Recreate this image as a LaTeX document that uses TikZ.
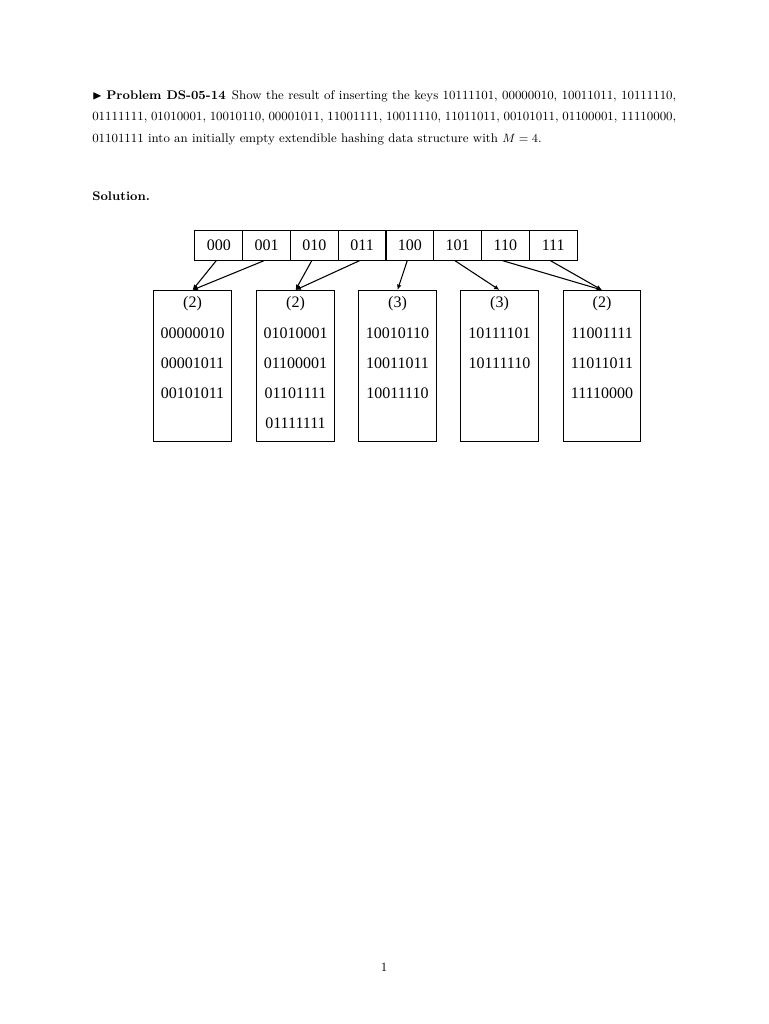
\documentclass[tikz,border=0pt]{standalone}
\usepackage{amssymb}
\usepackage{fontspec}
\newfontfamily\tms{Liberation Serif}
\usetikzlibrary{arrows.meta}
\begin{document}
\begin{tikzpicture}[x=0.75pt,y=-0.75pt,
  cell/.style={draw,line width=0.8pt,minimum width=36pt,minimum height=22pt,inner sep=0pt,font=\tms\fontsize{12}{14}\selectfont},
  bucket/.style={draw,line width=0.8pt,minimum width=58pt,minimum height=113pt,inner sep=0pt},
  btxt/.style={font=\tms\fontsize{12}{14}\selectfont,inner sep=0pt},
  arr/.style={line width=0.8pt,-{Latex[length=4pt,width=3.5pt]}}]
\useasboundingbox (0,0) rectangle (768,1024);
\node[anchor=north west,text width=438pt,align=justify,inner sep=0pt,font=\fontsize{9.4}{16.4}\selectfont] (para) at (92,90)
{$\blacktriangleright$ \textbf{Problem DS-05-14}\enspace Show the result of inserting the keys 10111101, 00000010, 10011011, 10111110, 01111111, 01010001, 10010110, 00001011, 11001111, 10011110, 11011011, 00101011, 01100001, 11110000, 01101111 into an initially empty extendible hashing data structure with $M=4$.};
\node[anchor=west,inner sep=0pt,font=\fontsize{9.4}{11}\selectfont\bfseries] (sol) at (92,196) {Solution.};
\foreach \lab [count=\i] in {000,001,010,011,100,101,110,111}{
  \node[cell] (c\i) at ({195+23.9+47.75*(\i-1)},245.5) {\lab};
}
\foreach \x/\n in {192.5/b1,295.5/b2,397.5/b3,499.5/b4,602/b5}{
  \node[bucket,anchor=north] (\n) at (\x,290) {};
}
\foreach \n/\a/\b/\c/\d/\e in {b1/(2)/00000010/00001011/00101011/,b2/(2)/01010001/01100001/01101111/01111111,b3/(3)/10010110/10011011/10011110/,b4/(3)/10111101/10111110//,b5/(2)/11001111/11011011/11110000/}{
  \node[btxt] (\n t0) at ([yshift=-13.5*0.75pt]\n.north) {\a};
  \node[btxt] (\n t1) at ([yshift=-43*0.75pt]\n.north) {\b};
  \node[btxt] (\n t2) at ([yshift=-73*0.75pt]\n.north) {\c};
  \node[btxt] (\n t3) at ([yshift=-103*0.75pt]\n.north) {\d};
  \node[btxt] (\n t4) at ([yshift=-133*0.75pt]\n.north) {\e};
}
\draw[arr] ([xshift=-2pt]c1.south) -- (b1.north);
\draw[arr] ([xshift=-2pt]c2.south) -- (b1.north);
\draw[arr] ([xshift=-2pt]c3.south) -- (b2.north);
\draw[arr] ([xshift=-2pt]c4.south) -- (b2.north);
\draw[arr] ([xshift=-2pt]c5.south) -- (b3.north);
\draw[arr] ([xshift=-2pt]c6.south) -- (b4.north);
\draw[arr] ([xshift=-2pt]c7.south) -- (b5.north);
\draw[arr] ([xshift=-2pt]c8.south) -- (b5.north);
\node[font=\fontsize{9.4}{11}\selectfont,inner sep=0pt] (pg) at (384,967) {1};
\end{tikzpicture}
\end{document}
